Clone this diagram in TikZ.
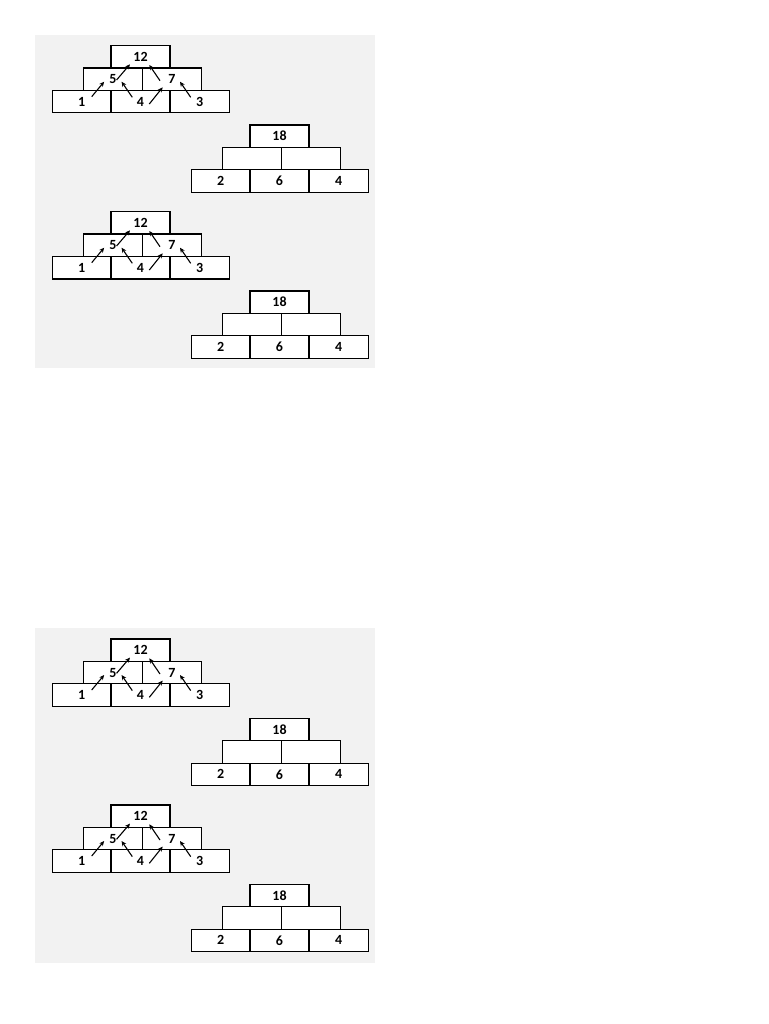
\documentclass[tikz,border=0pt]{standalone}
\usepackage{fontspec}
\setmainfont{Carlito}
\usetikzlibrary{arrows.meta}
\definecolor{panelgray}{HTML}{F2F2F2}
\tikzset{
  brick/.style={draw=black, line width=1.2pt, minimum width=59pt,
    minimum height=22.4pt, inner sep=0pt, font=\fontsize{14}{16}\selectfont\bfseries},
  addarrow/.style={line width=1.1pt, -{Stealth[length=5pt,width=4.5pt]}},
  panel/.style={fill=panelgray, draw=none},
  rowfill/.style={fill=white, draw=none},
  pyrbase/.pic={
    \path[rowfill] (0,0) rectangle (59,22.4);
    \path[rowfill] (-27.5,22.4) rectangle (90.5,44.8);
    \path[rowfill] (-58.85,44.8) rectangle (118.15,67.2);
  },
  pyrA/.pic={
    \pic {pyrbase};
    \node[brick] (-bl) at (-29.35,56) {1};
    \node[brick] (-bm) at (29.5,56) {4};
    \node[brick] (-br) at (88.65,56) {3};
    \node[brick] (-ml) at (2,33.6) {5};
    \node[brick] (-mr) at (61,33.6) {7};
    \node[brick] (-t) at (29.5,11.2) {12};
    \draw[addarrow] ([shift={(10.05,-5)}]-bl.center) -- ([shift={(-8.85,2.4)}]-ml.center);
    \draw[addarrow] ([shift={(3.55,0.7)}]-ml.center) -- ([shift={(-10.5,7.4)}]-t.center);
    \draw[addarrow] ([shift={(-8.2,-4.4)}]-bm.center) -- ([shift={(8.55,2.4)}]-ml.center);
    \draw[addarrow] ([shift={(8.8,2.3)}]-bm.center) -- ([shift={(-9.3,8)}]-mr.center);
    \draw[addarrow] ([shift={(-12,1.4)}]-mr.center) -- ([shift={(8.8,8.1)}]-t.center);
    \draw[addarrow] ([shift={(-8.95,-4.4)}]-br.center) -- ([shift={(8,2.4)}]-mr.center);
  },
  pyrB/.pic={
    \pic {pyrbase};
    \node[brick] (-bl) at (-29.35,56) {2};
    \node[brick] (-bm) at (29.5,56) {6};
    \node[brick] (-br) at (88.65,56) {4};
    \node[brick] (-ml) at (2,33.6) {};
    \node[brick] (-mr) at (61,33.6) {};
    \node[brick] (-t) at (29.5,11.2) {18};
  }
}
\begin{document}
\begin{tikzpicture}[x=1pt,y=-1pt]
  \useasboundingbox (0,0) rectangle (768,1024);
  \fill[white] (0,0) rectangle (768,1024);
  \path[panel] (35,35) rectangle (375,368.3);
  \path[panel] (35,628.3) rectangle (375,962.7);
  \pic (p1) at (111,45.7) {pyrA};
  \pic (p2) at (250,125) {pyrB};
  \pic (p3) at (111,211.7) {pyrA};
  \pic (p4) at (250,291) {pyrB};
  \pic (p5) at (111,639) {pyrA};
  \pic (p6) at (250,718.3) {pyrB};
  \pic (p7) at (111,805) {pyrA};
  \pic (p8) at (250,884.3) {pyrB};
\end{tikzpicture}
\end{document}
